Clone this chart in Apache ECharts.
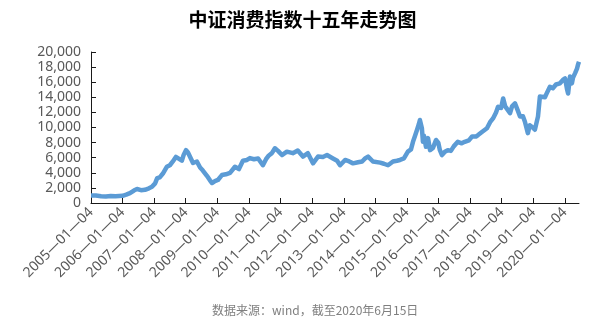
<!DOCTYPE html>
<html>
<head>
<meta charset="utf-8">
<title>中证消费指数十五年走势图</title>
<script src="https://cdn.jsdelivr.net/npm/echarts@6/dist/echarts.min.js"></script>
<style>
    html, body { margin: 0; padding: 0; background: #fff; }
    #chart { width: 605px; height: 321px; }
</style>
</head>
<body>
<div id="chart"></div>
<script>
// Data (index level at each date)
var dates = [
    '2005-01-04', '2005-03-01', '2005-05-01', '2005-06-25', '2005-08-20', '2005-10-15',
    '2006-01-04', '2006-02-15', '2006-03-30', '2006-05-15', '2006-06-20', '2006-08-05',
    '2006-09-20', '2006-11-05', '2006-12-10', '2007-01-15', '2007-02-08', '2007-03-10',
    '2007-04-15', '2007-05-30', '2007-07-05', '2007-08-08', '2007-09-12', '2007-10-05',
    '2007-11-20', '2007-12-12', '2008-01-08', '2008-01-30', '2008-02-22', '2008-03-28',
    '2008-05-12', '2008-06-18', '2008-07-20', '2008-09-05', '2008-10-10', '2008-11-03',
    '2008-12-07', '2009-01-10', '2009-02-25', '2009-04-12', '2009-05-30', '2009-07-26',
    '2009-09-10', '2009-10-26', '2009-12-12', '2010-01-15', '2010-03-03', '2010-04-20',
    '2010-06-14', '2010-07-20', '2010-08-22', '2010-09-26', '2010-10-31', '2010-12-06',
    '2011-01-20', '2011-03-18', '2011-05-26', '2011-07-22', '2011-09-20', '2011-11-16',
    '2012-01-14', '2012-03-12', '2012-05-08', '2012-06-24', '2012-09-01', '2012-10-19',
    '2012-11-22', '2013-01-19', '2013-03-08', '2013-04-21', '2013-06-18', '2013-08-04',
    '2013-09-08', '2013-10-12', '2013-12-07', '2014-02-28', '2014-04-13', '2014-05-30',
    '2014-07-27', '2014-09-10', '2014-10-16', '2014-11-30', '2015-01-15', '2015-02-20',
    '2015-03-15', '2015-04-05', '2015-05-01', '2015-05-23', '2015-06-03', '2015-06-26',
    '2015-07-08', '2015-07-20', '2015-08-12', '2015-09-05', '2015-09-28', '2015-11-01',
    '2015-12-06', '2016-01-01', '2016-01-20', '2016-02-13', '2016-03-18', '2016-04-20',
    '2016-05-26', '2016-06-28', '2016-08-14', '2016-09-28', '2016-11-02', '2016-12-20',
    '2017-01-26', '2017-03-11', '2017-04-05', '2017-05-20', '2017-07-17', '2017-08-22',
    '2017-09-25', '2017-10-30', '2017-11-22', '2017-12-27', '2018-01-20', '2018-02-13',
    '2018-03-08', '2018-04-10', '2018-05-03', '2018-06-06', '2018-07-10', '2018-08-03',
    '2018-09-06', '2018-09-28', '2018-11-02', '2018-11-24', '2018-12-18', '2019-01-22',
    '2019-02-27', '2019-03-21', '2019-04-12', '2019-05-18', '2019-06-09', '2019-07-15',
    '2019-08-18', '2019-09-23', '2019-11-08', '2019-12-12', '2020-01-06', '2020-01-30',
    '2020-02-10', '2020-03-03', '2020-03-25', '2020-04-07', '2020-05-01', '2020-05-23',
    '2020-06-03', '2020-06-15'
];
var indexValues = [
    1000, 980, 900, 870, 930, 900,
    950, 1100, 1300, 1650, 1850, 1700,
    1750, 1950, 2150, 2600, 3300, 3400,
    3900, 4800, 5000, 5500, 6100, 6350,
    5600, 6400, 7000, 6700, 6800, 5300,
    5500, 4700, 4300, 3600, 3000, 2650,
    2900, 3050, 3700, 3800, 4000, 4800,
    4500, 5600, 5700, 5950, 5800, 5900,
    5000, 5800, 6300, 6600, 7250, 6900,
    6350, 6800, 6600, 6950, 6150, 6600,
    5250, 6150, 6100, 6350, 5900, 5600,
    5000, 5700, 5500, 5250, 5400, 5500,
    5900, 6150, 5500, 5350, 5200, 5000,
    5500, 5600, 5700, 5900, 6800, 7100,
    8100, 8800, 9700, 10500, 11000, 9900,
    8100, 8900, 7450, 8600, 7000, 7300,
    8350, 8000, 7000, 6350, 6800, 7000,
    6900, 7500, 8100, 7900, 8100, 8300,
    8800, 8800, 9000, 9400, 9900, 10700,
    11200, 12000, 12750, 12600, 13850, 12800,
    12750, 11900, 12800, 13200, 12200, 11450,
    11500, 10800, 9250, 10300, 10100, 9700,
    11450, 14100, 14200, 14000, 14550, 15400,
    15200, 15700, 15850, 16300, 16500, 15000,
    14500, 16750, 15850, 16600, 17200, 17800,
    18300, 18700
];
// Axis tick dates (one per year) and y range
var tickDates = [
    '2005-01-04', '2006-01-04', '2007-01-04', '2008-01-04', '2009-01-04', '2010-01-04',
    '2011-01-04', '2012-01-04', '2013-01-04', '2014-01-04', '2015-01-04', '2016-01-04',
    '2017-01-04', '2018-01-04', '2019-01-04', '2020-01-04'
];
var startDate = '2005-01-04';
var endDate = '2020-06-15';
var yMin = 0;
var yMax = 20000;
var yStep = 2000;

function toTime(s) {
    var p = s.split('-');
    return new Date(+p[0], +p[1] - 1, +p[2]).getTime();
}
function pad(n) {
    return n < 10 ? '0' + n : '' + n;
}
// the original draws the date separators as long dashes
function fmtDate(t) {
    var d = new Date(t);
    return d.getFullYear() + '—' + pad(d.getMonth() + 1) + '—' + pad(d.getDate());
}

var chart = echarts.init(document.getElementById('chart'));

var seriesData = dates.map(function (d, i) {
    return [toTime(d), indexValues[i]];
});
var tickTimes = tickDates.map(toTime);

chart.setOption({
    animation: false,
    backgroundColor: '#fff',
    title: [{
        text: '中证消费指数十五年走势图',
        left: 'center',
        top: 5,
        textStyle: {
            color: '#000',
            fontSize: 19,
            fontWeight: 'bold',
            fontFamily: '"Noto Sans CJK SC", sans-serif'
        }
    }, {
        text: '数据来源：wind，截至2020年6月15日',
        left: 207,
        top: 299,
        textStyle: {
            color: '#7f7f7f',
            fontSize: 12,
            fontWeight: 'normal',
            fontFamily: '"Noto Sans CJK SC", sans-serif'
        }
    }],
    grid: {
        left: 91,
        right: 26,
        top: 52,
        bottom: 118,
        containLabel: false
    },
    xAxis: {
        type: 'value',
        min: toTime(startDate),
        max: toTime(endDate),
        axisLine: {
            show: true,
            lineStyle: { color: '#1a1a1a', width: 1 }
        },
        axisTick: {
            show: true,
            inside: true,
            length: 5,
            customValues: tickTimes,
            lineStyle: { color: '#1a1a1a' }
        },
        axisLabel: {
            customValues: tickTimes,
            rotate: 45,
            margin: 7,
            color: '#595959',
            fontSize: 14,
            fontFamily: '"Noto Sans", sans-serif',
            formatter: function (v) {
                return fmtDate(v);
            }
        },
        splitLine: { show: false }
    },
    yAxis: {
        type: 'value',
        min: yMin,
        max: yMax,
        interval: yStep,
        axisLine: {
            show: true,
            lineStyle: { color: '#1a1a1a', width: 1 }
        },
        axisTick: {
            show: true,
            inside: true,
            length: 5,
            lineStyle: { color: '#1a1a1a' }
        },
        axisLabel: {
            margin: 10,
            color: '#595959',
            fontSize: 14,
            fontFamily: '"Noto Sans", sans-serif',
            formatter: function (v) {
                return v.toLocaleString('en-US');
            }
        },
        splitLine: { show: false }
    },
    series: [{
        name: '中证消费',
        type: 'line',
        showSymbol: false,
        smooth: false,
        lineStyle: {
            color: '#5b9bd5',
            width: 4.5,
            join: 'round'
        },
        data: seriesData
    }]
});
</script>
</body>
</html>
